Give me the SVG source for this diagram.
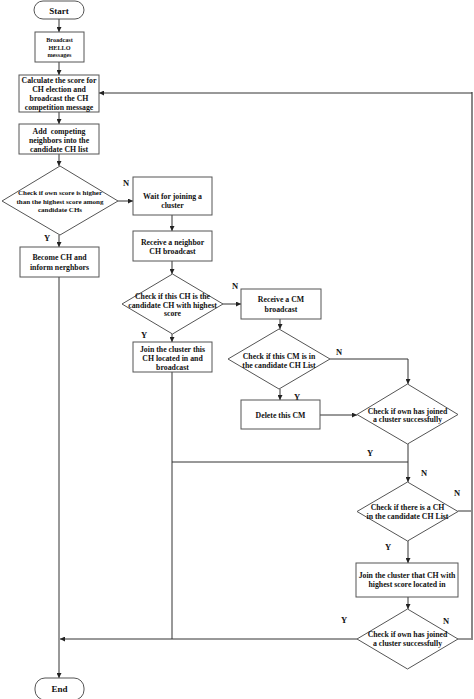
<svg xmlns="http://www.w3.org/2000/svg" width="474" height="699" viewBox="0 0 474 699">
<defs>
<marker id="ah" viewBox="0 0 8 8" refX="8" refY="4" markerWidth="5" markerHeight="5" orient="auto" markerUnits="userSpaceOnUse">
<path d="M0,0 L8,4 L0,8 z" fill="#222"/>
</marker>
</defs>
<style>
.box{fill:#fff;stroke:#555;stroke-width:1}
.t{font-family:"Liberation Serif","Times New Roman",serif;font-weight:bold;font-size:7.8px;fill:#111;text-anchor:middle}
.s{font-size:7px}
.xs{font-size:6.2px}
.big{font-size:9px}
.lbl{font-family:"Liberation Serif","Times New Roman",serif;font-weight:bold;font-size:8.5px;fill:#111;text-anchor:middle}
.c{fill:none;stroke:#333;stroke-width:1}
.a{marker-end:url(#ah)}
.fb{fill:none;stroke:#888;stroke-width:2}
</style>
<rect width="474" height="699" fill="#fff"/>
<g id="connectors">
<line class="c a" x1="59" y1="19" x2="59" y2="32"/>
<line class="c a" x1="59" y1="62" x2="59" y2="75"/>
<line class="c a" x1="59" y1="112" x2="59" y2="124"/>
<line class="c a" x1="59" y1="154" x2="59" y2="166"/>
<line class="c a" x1="118" y1="201" x2="133" y2="201"/>
<line class="c a" x1="59" y1="235" x2="59" y2="247"/>
<line class="c a" x1="172" y1="215" x2="172" y2="231"/>
<line class="c a" x1="172" y1="261" x2="172" y2="274"/>
<line class="c a" x1="223" y1="304" x2="241" y2="304"/>
<line class="c a" x1="172" y1="334" x2="172" y2="342"/>
<line class="c a" x1="280" y1="319" x2="280" y2="329"/>
<polyline class="c a" points="330,359 408,359 408,384"/>
<line class="c a" x1="280" y1="389" x2="280" y2="400"/>
<line class="c a" x1="320" y1="415" x2="357" y2="415"/>
<line class="c a" x1="408" y1="444" x2="408" y2="482"/>
<line class="c" x1="408" y1="462" x2="172" y2="462"/>
<line class="c" x1="458" y1="511" x2="472" y2="511"/>
<line class="c a" x1="408" y1="541" x2="408" y2="563"/>
<line class="c a" x1="408" y1="597" x2="408" y2="609"/>
<line class="c a" x1="357" y1="639" x2="60" y2="639"/>
<line class="c" x1="458" y1="639" x2="472" y2="639"/>
<line class="fb" x1="472" y1="640" x2="472" y2="92"/>
<line class="c a" x1="472" y1="93" x2="99" y2="93"/>
<line class="c a" x1="59" y1="277" x2="59" y2="678"/>
<line class="c" x1="172" y1="372" x2="172" y2="639"/>
</g>
<g id="labels">
<text class="lbl" x="126" y="186">N</text>
<text class="lbl" x="47" y="241">Y</text>
<text class="lbl" x="235" y="289">N</text>
<text class="lbl" x="144" y="338">Y</text>
<text class="lbl" x="339" y="355">N</text>
<text class="lbl" x="297" y="400">Y</text>
<text class="lbl" x="370" y="456">Y</text>
<text class="lbl" x="424" y="476">N</text>
<text class="lbl" x="457" y="496">N</text>
<text class="lbl" x="388" y="550">Y</text>
<text class="lbl" x="344" y="623">Y</text>
<text class="lbl" x="446" y="624">N</text>
</g>
<g id="start">
<rect class="box" x="34" y="1" width="50" height="18" rx="9"/>
<text class="t big" x="59" y="13.5">Start</text>
</g>
<g id="broadcast-hello">
<rect class="box" x="35" y="32" width="49" height="30"/>
<text class="t xs" x="59.5" y="42">Broadcast</text>
<text class="t xs" x="59.5" y="49.5">HELLO</text>
<text class="t xs" x="59.5" y="57">messages</text>
</g>
<g id="calculate">
<rect class="box" x="19" y="75" width="80" height="37"/>
<text class="t" x="59" y="82.7">Calculate the score for</text>
<text class="t" x="59" y="91.7">CH election and</text>
<text class="t" x="59" y="100.7">broadcast the CH</text>
<text class="t" x="59" y="109.7">competition message</text>
</g>
<g id="add-competing">
<rect class="box" x="19" y="124" width="80" height="30"/>
<text class="t" x="59" y="133.7">Add&#160; competing</text>
<text class="t" x="59" y="142.7">neighbors into the</text>
<text class="t" x="59" y="151.7">candidate CH list</text>
</g>
<g id="check-own-score">
<polygon class="box" points="60,166 118,201 60,235 2,201"/>
<text class="t s" x="60" y="194.5">Check if own score is higher</text>
<text class="t s" x="60" y="203.5">than the highest score among</text>
<text class="t s" x="60" y="211.5">candidate CHs</text>
</g>
<g id="become-ch">
<rect class="box" x="20" y="247" width="79" height="30"/>
<text class="t" x="59.5" y="259.7">Become CH and</text>
<text class="t" x="59.5" y="269.7">inform nerghbors</text>
</g>
<g id="wait-joining">
<rect class="box" x="133" y="177" width="79" height="38"/>
<text class="t" x="172.5" y="198.7">Wait for joining a</text>
<text class="t" x="172.5" y="207.7">cluster</text>
</g>
<g id="receive-ch">
<rect class="box" x="133" y="231" width="79" height="30"/>
<text class="t" x="172.5" y="244.7">Receive a neighbor</text>
<text class="t" x="172.5" y="253.7">CH broadcast</text>
</g>
<g id="check-highest">
<polygon class="box" points="172.5,274 223,304 172.5,334 122,304"/>
<text class="t" x="172.5" y="298.7">Check if this CH is the</text>
<text class="t" x="172.5" y="307.7">candidate CH with highest</text>
<text class="t" x="172.5" y="315.7">score</text>
</g>
<g id="join-this-ch">
<rect class="box" x="133" y="342" width="79" height="30"/>
<text class="t" x="172.5" y="351.7">Join the cluster this</text>
<text class="t" x="172.5" y="360.7">CH located in and</text>
<text class="t" x="172.5" y="369.7">broadcast</text>
</g>
<g id="receive-cm">
<rect class="box" x="241" y="289" width="80" height="30"/>
<text class="t" x="281" y="301.7">Receive a CM</text>
<text class="t" x="281" y="311.7">broadcast</text>
</g>
<g id="check-cm">
<polygon class="box" points="279,329 330,359 279,389 228,359"/>
<text class="t" x="279" y="358.7">Check if this CM is in</text>
<text class="t" x="279" y="367.7">the candidate CH List</text>
</g>
<g id="delete-cm">
<rect class="box" x="241" y="400" width="79" height="29"/>
<text class="t" x="280.5" y="417.7">Delete this CM</text>
</g>
<g id="check-joined-1">
<polygon class="box" points="407.5,384 458,414.5 407.5,444 357,414.5"/>
<text class="t" x="407.5" y="413.7">Check if own has joined</text>
<text class="t" x="407.5" y="421.7">a cluster successfully</text>
</g>
<g id="check-ch-list">
<polygon class="box" points="407.5,482 458,511.5 407.5,541 357,511.5"/>
<text class="t" x="407.5" y="509.7">Check if there is a CH</text>
<text class="t" x="407.5" y="518.7">in the candidate CH List</text>
</g>
<g id="join-highest">
<rect class="box" x="356" y="563" width="102" height="34"/>
<text class="t" x="407" y="577.7">Join the cluster that CH with</text>
<text class="t" x="407" y="586.7">highest score located in</text>
</g>
<g id="check-joined-2">
<polygon class="box" points="407.5,609 458,639 407.5,669 357,639"/>
<text class="t" x="407.5" y="636.7">Check if own has joined</text>
<text class="t" x="407.5" y="645.7">a cluster successfully</text>
</g>
<g id="end">
<rect class="box" x="35" y="678" width="49" height="22" rx="10"/>
<text class="t big" x="59.5" y="692">End</text>
</g>
</svg>
